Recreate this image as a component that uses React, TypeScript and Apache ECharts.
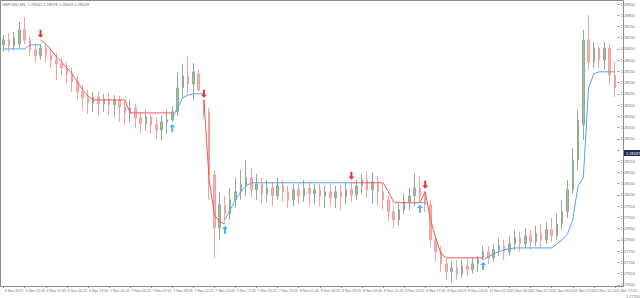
import React, { useEffect, useRef } from "react";
import * as echarts from "echarts";

const chartTitle = "GBPUSD,M5  1.28062 1.28078 1.28009 1.28028";
const bidLabel = "1.28187";
const bidLevel = 1.28187;
const lastPriceTick = "1.27550";

const tickLabels = [
  "6 Nov 2019", "6 Nov 15:05", "6 Nov 17:45", "6 Nov 20:25", "6 Nov 23:05",
  "7 Nov 01:45", "7 Nov 04:25", "7 Nov 07:05", "7 Nov 09:45", "7 Nov 12:25",
  "7 Nov 15:05", "7 Nov 17:45", "7 Nov 20:25", "7 Nov 23:05", "8 Nov 01:45",
  "8 Nov 04:25", "8 Nov 07:05", "8 Nov 09:45", "8 Nov 12:25", "8 Nov 15:05",
  "8 Nov 17:45", "8 Nov 20:25", "8 Nov 23:05", "11 Nov 01:50", "11 Nov 04:30",
  "11 Nov 07:10", "11 Nov 09:50", "11 Nov 12:30", "11 Nov 15:10", "11 Nov 17:50",
];

const opens = [
  1.28668, 1.28690, 1.28663, 1.28672, 1.28735, 1.28690, 1.28646, 1.28619, 1.28654, 1.28623,
  1.28601, 1.28583, 1.28565, 1.28539, 1.28503, 1.28459, 1.28432, 1.28410, 1.28436, 1.28405,
  1.28427, 1.28401, 1.28423, 1.28392, 1.28365, 1.28387, 1.28343, 1.28316, 1.28347, 1.28312,
  1.28290, 1.28325, 1.28334, 1.28370, 1.28476, 1.28530, 1.28494, 1.28539, 1.28423, 1.28370,
  1.28089, 1.27853, 1.27956, 1.27916, 1.27978, 1.28014, 1.28045, 1.28076, 1.28023, 1.28049,
  1.28005, 1.28031, 1.27996, 1.28040, 1.28014, 1.27978, 1.28023, 1.27996, 1.28031, 1.28005,
  1.28023, 1.27996, 1.28014, 1.27987, 1.28014, 1.27991, 1.28023, 1.28000, 1.28040, 1.28067,
  1.28023, 1.28058, 1.28014, 1.27978, 1.27925, 1.27889, 1.27934, 1.27969, 1.27996, 1.28031,
  1.27996, 1.27956, 1.27800, 1.27747, 1.27693, 1.27658, 1.27675, 1.27649, 1.27684, 1.27667,
  1.27693, 1.27720, 1.27747, 1.27720, 1.27756, 1.27773, 1.27747, 1.27782, 1.27809, 1.27782,
  1.27818, 1.27791, 1.27827, 1.27800, 1.27845, 1.27818, 1.27871, 1.27925, 1.28023, 1.28156,
  1.28312, 1.28690, 1.28592, 1.28654, 1.28601, 1.28654, 1.28534,
];
const closes = [
  1.28690, 1.28663, 1.28699, 1.28735, 1.28690, 1.28646, 1.28619, 1.28654, 1.28623, 1.28601,
  1.28583, 1.28565, 1.28539, 1.28503, 1.28459, 1.28432, 1.28410, 1.28436, 1.28405, 1.28427,
  1.28401, 1.28423, 1.28392, 1.28365, 1.28387, 1.28343, 1.28316, 1.28347, 1.28312, 1.28290,
  1.28325, 1.28334, 1.28370, 1.28476, 1.28530, 1.28494, 1.28548, 1.28468, 1.28370, 1.28089,
  1.27853, 1.27956, 1.27916, 1.27978, 1.28014, 1.28045, 1.28076, 1.28023, 1.28049, 1.28005,
  1.28031, 1.27996, 1.28040, 1.28014, 1.27978, 1.28023, 1.27996, 1.28031, 1.28005, 1.28023,
  1.27996, 1.28014, 1.27987, 1.28014, 1.27991, 1.28023, 1.28000, 1.28040, 1.28067, 1.28023,
  1.28058, 1.28014, 1.27978, 1.27925, 1.27889, 1.27934, 1.27969, 1.27996, 1.28031, 1.27996,
  1.27956, 1.27800, 1.27747, 1.27693, 1.27658, 1.27675, 1.27649, 1.27684, 1.27667, 1.27693,
  1.27711, 1.27747, 1.27720, 1.27756, 1.27773, 1.27747, 1.27782, 1.27809, 1.27782, 1.27818,
  1.27791, 1.27827, 1.27800, 1.27845, 1.27818, 1.27871, 1.27925, 1.28023, 1.28156, 1.28334,
  1.28690, 1.28592, 1.28654, 1.28601, 1.28654, 1.28534, 1.28476,
];
const highs = [
  1.28712, 1.28721, 1.28726, 1.28770, 1.28792, 1.28708, 1.28672, 1.28672, 1.28672, 1.28650,
  1.28632, 1.28610, 1.28592, 1.28565, 1.28530, 1.28490, 1.28468, 1.28459, 1.28459, 1.28450,
  1.28454, 1.28445, 1.28441, 1.28419, 1.28423, 1.28405, 1.28370, 1.28379, 1.28361, 1.28343,
  1.28352, 1.28379, 1.28396, 1.28548, 1.28583, 1.28614, 1.28588, 1.28557, 1.28427, 1.28387,
  1.28111, 1.28014, 1.27996, 1.28031, 1.28076, 1.28112, 1.28156, 1.28120, 1.28094, 1.28076,
  1.28067, 1.28058, 1.28076, 1.28067, 1.28040, 1.28049, 1.28049, 1.28067, 1.28058, 1.28049,
  1.28049, 1.28040, 1.28049, 1.28040, 1.28045, 1.28054, 1.28058, 1.28067, 1.28094, 1.28103,
  1.28103, 1.28085, 1.28049, 1.27996, 1.27951, 1.27960, 1.28005, 1.28031, 1.28098, 1.28085,
  1.28018, 1.27978, 1.27818, 1.27773, 1.27720, 1.27702, 1.27711, 1.27711, 1.27720, 1.27720,
  1.27729, 1.27773, 1.27773, 1.27782, 1.27809, 1.27800, 1.27818, 1.27845, 1.27836, 1.27853,
  1.27845, 1.27862, 1.27871, 1.27880, 1.27898, 1.27916, 1.27978, 1.28067, 1.28209, 1.28379,
  1.28735, 1.28801, 1.28681, 1.28663, 1.28681, 1.28672, 1.28592,
];
const lows = [
  1.28637, 1.28637, 1.28646, 1.28654, 1.28672, 1.28619, 1.28592, 1.28601, 1.28592, 1.28565,
  1.28512, 1.28530, 1.28494, 1.28459, 1.28423, 1.28379, 1.28361, 1.28370, 1.28352, 1.28370,
  1.28356, 1.28343, 1.28325, 1.28312, 1.28325, 1.28298, 1.28272, 1.28285, 1.28272, 1.28249,
  1.28241, 1.28272, 1.28325, 1.28352, 1.28432, 1.28450, 1.28423, 1.28459, 1.28343, 1.27978,
  1.27720, 1.27800, 1.27880, 1.27889, 1.27942, 1.27978, 1.27996, 1.27987, 1.27978, 1.27960,
  1.27969, 1.27951, 1.27978, 1.27969, 1.27942, 1.27951, 1.27960, 1.27969, 1.27951, 1.27960,
  1.27951, 1.27942, 1.27951, 1.27942, 1.27934, 1.27960, 1.27969, 1.27978, 1.28005, 1.27987,
  1.27960, 1.27951, 1.27934, 1.27880, 1.27853, 1.27862, 1.27916, 1.27934, 1.27951, 1.27965,
  1.27925, 1.27773, 1.27702, 1.27658, 1.27622, 1.27609, 1.27622, 1.27631, 1.27640, 1.27649,
  1.27658, 1.27711, 1.27693, 1.27702, 1.27729, 1.27711, 1.27729, 1.27756, 1.27747, 1.27764,
  1.27756, 1.27773, 1.27764, 1.27782, 1.27791, 1.27800, 1.27845, 1.27898, 1.28005, 1.28112,
  1.28245, 1.28557, 1.28565, 1.28565, 1.28557, 1.28490, 1.28436,
];

const N = null;
const trendUp = [
  1.28650, 1.28650, 1.28650, 1.28650, 1.28650, 1.28668, 1.28668, 1.28668,
  N, N, N, N, N, N, N, N, N, N, N, N, N, N, N, N, N, N, N, N, N, N, N, N,
  1.28343, 1.28387, 1.28432, 1.28445, 1.28450, 1.28450, 1.28450,
  N, N, N,
  1.27889, 1.27934, 1.27978, 1.28014, 1.28040,
  1.28054, 1.28054, 1.28054, 1.28054, 1.28054, 1.28054, 1.28054, 1.28054, 1.28054, 1.28054,
  1.28054, 1.28054, 1.28054, 1.28054, 1.28054, 1.28054, 1.28054, 1.28054, 1.28054, 1.28054,
  N, N, N, N, N, N, N, N, N, N, N, N,
  1.27965, 1.27965,
  N, N, N, N, N, N, N, N, N, N,
  1.27711, 1.27724, 1.27738, 1.27747, 1.27756, 1.27760,
  1.27764, 1.27764, 1.27764, 1.27764, 1.27764, 1.27764, 1.27764, 1.27764,
  1.27782, 1.27800, 1.27827, 1.27889, 1.28040, 1.28076, 1.28476, 1.28539,
  1.28548, 1.28548, 1.28548, 1.28548,
];
const trendDown = [
  N, N, N, N, N, N, N,
  1.28690, 1.28672, 1.28646, 1.28614, 1.28592, 1.28565, 1.28539, 1.28503, 1.28468, 1.28441,
  1.28423, 1.28423, 1.28423, 1.28423, 1.28423, 1.28423, 1.28423,
  1.28365, 1.28365, 1.28365, 1.28365, 1.28365, 1.28365, 1.28365, 1.28365, 1.28365,
  N, N, N, N, N,
  1.28423, 1.28067, 1.27911, 1.27880, 1.27871,
  N, N, N, N, N, N, N, N, N, N, N, N, N, N, N, N, N, N, N, N, N, N, N,
  1.28054, 1.28054, 1.28054, 1.28054, 1.28054, 1.28054, 1.28054,
  1.28014, 1.27969,
  1.27965, 1.27965, 1.27965, 1.27965, 1.27965,
  1.28014, 1.27889, 1.27809, 1.27738,
  1.27720, 1.27720, 1.27720, 1.27720, 1.27720, 1.27720, 1.27720, 1.27720,
  N, N, N, N, N, N, N, N, N, N, N, N, N, N, N, N, N, N, N, N, N, N, N, N, N,
];

const sellBars = [7, 38, 66, 80];
const sellLevels = [1.28717, 1.2845, 1.28085, 1.28045];
const buyBars = [32, 42, 79, 91];
const buyLevels = [1.28298, 1.27845, 1.27938, 1.27684];

const priceMin = 1.276;
const priceMax = 1.2885;
const priceStep = 0.0005;

export default function App() {
  const ref = useRef<HTMLDivElement>(null);
  useEffect(() => {
    if (!ref.current) return;
    const chart = echarts.init(ref.current, null, { renderer: "svg" });
    const cats = opens.map((_, i) => String(i));
    const candles = opens.map((o, i) => [o, closes[i], lows[i], highs[i]]);
    const font = "Liberation Sans";
    const labelColor = "#6f7588";
    chart.setOption({
      animation: false,
      grid: { left: 1, top: 4, width: 622, height: 280.75, containLabel: false },
      xAxis: {
        type: "category",
        data: cats,
        boundaryGap: true,
        offset: 1.25,
        axisLine: { show: false },
        axisTick: { show: true, interval: 3, alignWithLabel: true, length: 2, lineStyle: { color: "#8a8a8a" } },
        axisLabel: {
          interval: 3,
          align: "left",
          margin: 3,
          fontSize: 3.6,
          fontFamily: font,
          color: labelColor,
          padding: [0, 0, 0, 1],
          formatter: (_v: string, idx: number) => tickLabels[Math.floor(idx / 4)] ?? "",
        },
        splitLine: { show: false },
      },
      yAxis: {
        type: "value",
        position: "right",
        min: priceMin,
        max: priceMax,
        interval: priceStep,
        scale: true,
        axisLine: { show: false },
        axisTick: { show: true, length: 2, lineStyle: { color: "#8a8a8a" } },
        axisLabel: {
          margin: 3,
          fontSize: 4,
          fontFamily: font,
          color: labelColor,
          formatter: (v: number) => (Math.abs(v - bidLevel) < 0.0002 ? "" : v.toFixed(5)),
        },
        splitLine: { show: false },
      },
      series: [
        {
          type: "candlestick",
          data: candles,
          barWidth: 2,
          itemStyle: {
            color: "#a5b9a5",
            color0: "#f6b1b1",
            borderColor: "#93aa93",
            borderColor0: "#f2a0a0",
            borderWidth: 1,
          },
          z: 2,
        },
        {
          type: "line",
          data: trendUp,
          symbol: "none",
          connectNulls: false,
          lineStyle: { color: "#4ea6f2", width: 1 },
          z: 3,
        },
        {
          type: "line",
          data: trendDown,
          symbol: "none",
          connectNulls: false,
          lineStyle: { color: "#f25656", width: 1 },
          z: 3,
        },
        {
          type: "scatter",
          data: sellBars.map((b, k) => [b, sellLevels[k]]),
          symbol: "path://M2,0 H4 V6 H6 L3,10 L0,6 H2 Z",
          symbolSize: [6, 8],
          itemStyle: { color: "#d90000" },
          z: 5,
        },
        {
          type: "scatter",
          data: buyBars.map((b, k) => [b, buyLevels[k]]),
          symbol: "path://M3,0 L6,4 H4 V10 H2 V4 H0 Z",
          symbolSize: [6, 8],
          itemStyle: { color: "#1f9cf5" },
          z: 5,
        },
      ],
      graphic: [
        {
          type: "rect",
          shape: { x: 0.5, y: 0.5, width: 623, height: 286 },
          style: { fill: "none", stroke: "#8c8c8c", lineWidth: 1 },
          silent: true,
          z: 10,
        },
        {
          type: "text",
          x: 2,
          y: 4,
          style: { text: chartTitle, fontSize: 4, fontFamily: font, fill: "#6a6a6a", verticalAlign: "middle" },
          z: 10,
        },
        {
          type: "rect",
          shape: { x: 624, y: 150, width: 16, height: 6 },
          style: { fill: "#1d2b4f" },
          z: 10,
        },
        {
          type: "text",
          x: 626,
          y: 153,
          style: { text: bidLabel, fontSize: 4, fontFamily: font, fill: "#ffffff", verticalAlign: "middle" },
          z: 11,
        },
        {
          type: "text",
          x: 626,
          y: 296,
          style: { text: lastPriceTick, fontSize: 4, fontFamily: font, fill: labelColor, verticalAlign: "middle" },
          z: 10,
        },
      ],
    });
    return () => chart.dispose();
  }, []);
  return (
    <div
      ref={ref}
      style={{ position: "fixed", left: 0, top: 0, width: 640, height: 298, background: "#fff" }}
    />
  );
}
